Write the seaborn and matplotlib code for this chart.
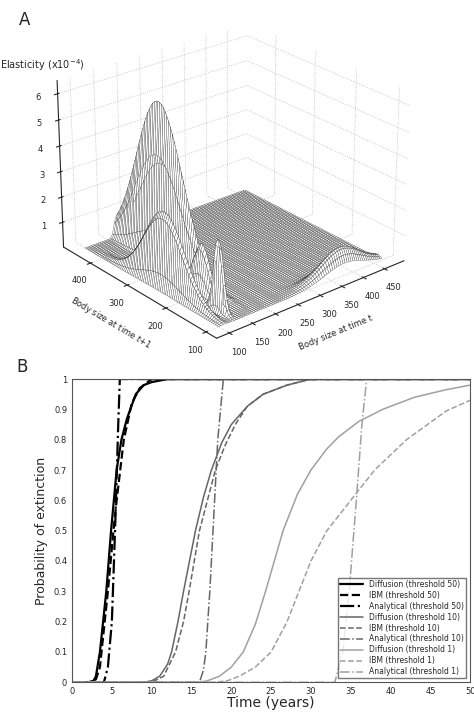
import numpy as np
import matplotlib
matplotlib.use("Agg")
import matplotlib.pyplot as plt
import seaborn as sns

sns.set_style("white")
plt.rcParams['font.family'] = ['DejaVu Sans']

# panel A: ridge description (centre x, centre y, height, width x, width y)
size_t = np.linspace(100, 470, 80)
size_t1 = np.linspace(100, 450, 80)
bump_x = [112, 135, 150, 170, 380]
bump_y = [250, 140, 200, 330, 112]
bump_h = [3.4, 3.6, 2.0, 6.2, 1.0]
bump_sx = [4, 3, 6, 5, 45]
bump_sy = [50, 10, 20, 60, 10]

# panel B: probability of extinction curves (time, probability)
diff50_t = [0, 2, 2.7, 3, 3.5, 4.3, 4.9, 5.6, 6.2, 6.9, 8, 9, 10, 12, 50]
diff50_p = [0, 0, 0.005, 0.02, 0.1, 0.3, 0.5, 0.7, 0.8, 0.87, 0.95, 0.98, 0.99, 1, 1]
ibm50_t = [0, 2.5, 3, 3.5, 4.5, 5.2, 5.6, 6.5, 7.5, 8.5, 10, 50]
ibm50_p = [0, 0, 0.01, 0.05, 0.3, 0.5, 0.6, 0.8, 0.92, 0.97, 1, 1]
ana50_t = [0, 4, 4.5, 5, 5.4, 5.8, 6, 50]
ana50_p = [0, 0, 0.05, 0.2, 0.5, 0.85, 1, 1]
diff10_t = [0, 9, 10, 11, 12, 12.5, 13.3, 14, 15.5, 16.5, 17.5, 18.8, 20, 22, 24, 27, 30, 50]
diff10_p = [0, 0, 0.005, 0.02, 0.06, 0.1, 0.2, 0.3, 0.5, 0.61, 0.7, 0.79, 0.85, 0.91, 0.95, 0.98, 1, 1]
ibm10_t = [0, 10, 11.5, 13, 14, 14.7, 16, 17, 18, 19.2, 20.5, 22, 24, 27, 30, 50]
ibm10_p = [0, 0, 0.02, 0.1, 0.2, 0.3, 0.5, 0.6, 0.7, 0.78, 0.85, 0.91, 0.95, 0.98, 1, 1]
ana10_t = [0, 16, 16.5, 16.8, 17.3, 17.7, 18.3, 19, 50]
ana10_p = [0, 0, 0.04, 0.1, 0.3, 0.5, 0.8, 1, 1]
diff1_t = [0, 16, 17, 18.5, 20, 21.5, 23, 24.3, 26.5, 28.3, 30, 32, 33.5, 36, 39, 43, 47, 50]
diff1_p = [0, 0, 0.005, 0.02, 0.05, 0.1, 0.19, 0.3, 0.5, 0.62, 0.7, 0.77, 0.81, 0.86, 0.9, 0.94, 0.965, 0.98]
ibm1_t = [0, 18, 19.5, 21, 23, 25, 27, 28.5, 30, 32, 35, 38, 42, 47, 50]
ibm1_p = [0, 0, 0.005, 0.02, 0.05, 0.1, 0.2, 0.3, 0.4, 0.5, 0.6, 0.7, 0.8, 0.895, 0.93]
ana1_t = [0, 33, 34, 34.8, 35.7, 36.4, 37, 50]
ana1_p = [0, 0, 0.1, 0.3, 0.6, 0.85, 1, 1]

fig = plt.figure(figsize=(4.74, 7.22), dpi=100)

# ---- panel A
ax3 = fig.add_axes([-0.08, 0.49, 1.12, 0.53], projection='3d')
X, Y = np.meshgrid(size_t, size_t1)
Z = np.zeros_like(X)
for cx, cy, h, sx, sy in zip(bump_x, bump_y, bump_h, bump_sx, bump_sy):
    Z += h * np.exp(-((X - cx) / sx) ** 2 / 2 - ((Y - cy) / sy) ** 2 / 2)
ax3.plot_surface(X, Y, Z, color='white', edgecolor='#222222', linewidth=0.2,
                 rstride=1, cstride=1, shade=False)
ax3.view_init(elev=25, azim=-130)
ax3.set_zlim(0, 6.5)
ax3.set_xticks([100, 150, 200, 250, 300, 350, 400, 450])
ax3.set_yticks([100, 200, 300, 400])
ax3.set_zticks([1, 2, 3, 4, 5, 6])
ax3.tick_params(labelsize=6, pad=0)
ax3.set_xlabel('Body size at time t', fontsize=6, labelpad=-2)
ax3.set_ylabel('Body size at time $t$+1', fontsize=6, labelpad=-2)
for a in (ax3.xaxis, ax3.yaxis, ax3.zaxis):
    a.pane.fill = False
    a.pane.set_edgecolor('white')
    a._axinfo['grid'].update(color='#bbbbbb', linestyle=':', linewidth=0.6)
fig.text(0.0, 0.905, 'Elasticity (x10$^{-4}$)', fontsize=7)
fig.text(0.04, 0.965, 'A', fontsize=12)

# ---- panel B
ax = fig.add_axes([0.152, 0.055, 0.84, 0.42])
black, dark, light = 'black', '#666666', '#a0a0a0'
curves = [
    (diff50_t, diff50_p, black, '-', 1.6, 'Diffusion (threshold 50)'),
    (ibm50_t, ibm50_p, black, '--', 1.6, 'IBM (threshold 50)'),
    (ana50_t, ana50_p, black, '-.', 1.6, 'Analytical (threshold 50)'),
    (diff10_t, diff10_p, dark, '-', 1.1, 'Diffusion (threshold 10)'),
    (ibm10_t, ibm10_p, dark, '--', 1.1, 'IBM (threshold 10)'),
    (ana10_t, ana10_p, dark, '-.', 1.1, 'Analytical (threshold 10)'),
    (diff1_t, diff1_p, light, '-', 1.1, 'Diffusion (threshold 1)'),
    (ibm1_t, ibm1_p, light, '--', 1.1, 'IBM (threshold 1)'),
    (ana1_t, ana1_p, light, '-.', 1.1, 'Analytical (threshold 1)'),
]
for t, p, c, ls, lw, lab in curves:
    sns.lineplot(x=t, y=p, ax=ax, color=c, linestyle=ls, linewidth=lw, label=lab)
ax.set_xlim(0, 50)
ax.set_ylim(0, 1)
ax.set_xticks(range(0, 51, 5))
ax.set_yticks(np.arange(0, 1.01, 0.1))
ax.set_yticklabels(['0', '0.1', '0.2', '0.3', '0.4', '0.5', '0.6', '0.7', '0.8', '0.9', '1'])
ax.tick_params(direction='in', labelsize=6, length=3)
for s in ax.spines.values():
    s.set_color('#555555')
ax.set_xlabel('Time (years)', fontsize=10, labelpad=0)
ax.set_ylabel('Probability of extinction', fontsize=9)
ax.legend(loc='lower right', fontsize=5.5, frameon=True, fancybox=False,
          edgecolor='#555555', handlelength=3, borderpad=0.3, labelspacing=0.25)
fig.text(0.035, 0.485, 'B', fontsize=12)

fig.savefig('out.png', dpi=100)
